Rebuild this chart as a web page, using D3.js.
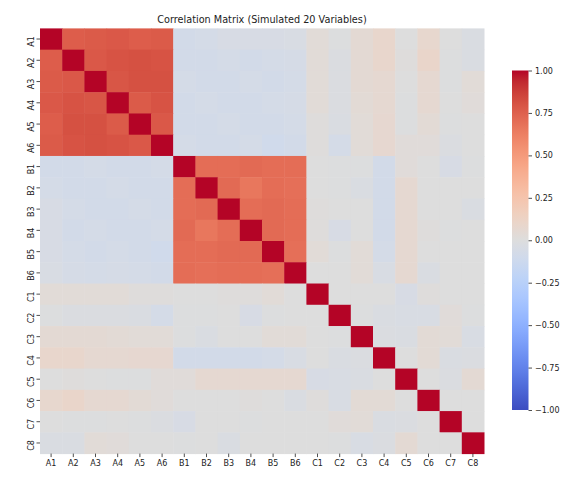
<!DOCTYPE html>
<html><head><meta charset="utf-8">
<script src="https://cdn.jsdelivr.net/npm/d3@7"></script>
<style>body{margin:0;background:#fff}svg{display:block}text{font-family:"DejaVu Sans",sans-serif;fill:#222}</style>
</head><body><svg id="c" width="574" height="493"></svg>
<script>
const labels = ["A1","A2","A3","A4","A5","A6","B1","B2","B3","B4","B5","B6","C1","C2","C3","C4","C5","C6","C7","C8"];
const values = [
[1,0.76,0.77,0.78,0.76,0.77,-0.08,-0.07,-0.05,-0.05,-0.05,-0.04,0.03,-0.01,0.05,0.09,0.00,0.08,0.00,-0.03],
[0.76,1,0.78,0.80,0.81,0.80,-0.08,-0.08,-0.07,-0.08,-0.07,-0.06,0.03,-0.02,0.05,0.09,0.01,0.10,-0.01,-0.03],
[0.77,0.78,1,0.79,0.81,0.81,-0.07,-0.08,-0.08,-0.07,-0.08,-0.07,0.03,-0.02,0.05,0.06,0.00,0.06,-0.01,0.03],
[0.78,0.80,0.79,1,0.77,0.80,-0.08,-0.07,-0.08,-0.08,-0.07,-0.06,0.03,-0.02,0.04,0.06,-0.01,0.06,0.00,0.02],
[0.76,0.81,0.81,0.77,1,0.78,-0.08,-0.08,-0.07,-0.08,-0.08,-0.07,0.01,-0.03,0.03,0.07,-0.01,0.04,-0.01,0.00],
[0.77,0.80,0.81,0.80,0.78,1,-0.07,-0.08,-0.08,-0.07,-0.10,-0.08,0.01,-0.07,0.03,0.07,0.02,0.02,-0.02,0.00],
[-0.08,-0.08,-0.07,-0.08,-0.08,-0.07,1,0.70,0.70,0.71,0.70,0.70,0.00,-0.01,-0.01,-0.08,0.02,0.00,-0.05,-0.01],
[-0.07,-0.08,-0.08,-0.07,-0.08,-0.08,0.70,1,0.71,0.66,0.70,0.69,0.00,-0.01,-0.03,-0.08,0.06,0.00,0.00,0.00],
[-0.05,-0.07,-0.08,-0.08,-0.07,-0.08,0.70,0.71,1,0.70,0.71,0.70,0.01,0.00,0.00,-0.08,0.06,0.00,0.00,-0.03],
[-0.05,-0.08,-0.07,-0.08,-0.08,-0.07,0.71,0.66,0.70,1,0.71,0.70,0.01,-0.05,0.00,-0.08,0.06,0.01,-0.01,0.00],
[-0.05,-0.07,-0.08,-0.07,-0.08,-0.10,0.70,0.70,0.71,0.71,1,0.69,0.03,-0.01,0.03,-0.07,0.06,0.00,0.00,0.00],
[-0.04,-0.06,-0.07,-0.06,-0.07,-0.08,0.70,0.69,0.70,0.70,0.69,1,0.00,0.00,0.03,-0.04,0.06,-0.03,0.00,0.00],
[0.03,0.03,0.03,0.03,0.01,0.01,0.00,0.00,0.01,0.01,0.03,0.00,1,0.00,0.00,0.00,-0.05,0.01,0.00,0.00],
[-0.01,-0.02,-0.02,-0.02,-0.03,-0.07,-0.01,-0.01,0.00,-0.05,-0.01,0.00,0.00,1,-0.01,-0.03,-0.04,-0.04,0.02,-0.01],
[0.05,0.05,0.05,0.04,0.03,0.03,-0.01,-0.03,0.00,0.00,0.03,0.03,0.00,-0.01,1,-0.02,-0.03,0.04,0.03,-0.04],
[0.09,0.09,0.06,0.06,0.07,0.07,-0.08,-0.08,-0.08,-0.08,-0.07,-0.04,0.00,-0.03,-0.02,1,0.00,0.04,-0.03,-0.02],
[0.00,0.01,0.00,-0.01,-0.01,0.02,0.02,0.06,0.06,0.06,0.06,0.06,-0.05,-0.04,-0.03,0.00,1,0.00,-0.02,0.05],
[0.08,0.10,0.06,0.06,0.04,0.02,0.00,0.00,0.00,0.01,0.00,-0.03,0.01,-0.04,0.04,0.04,0.00,1,0.00,0.00],
[0.00,-0.01,-0.01,0.00,-0.01,-0.02,-0.05,0.00,0.00,-0.01,0.00,0.00,0.00,0.02,0.03,-0.03,-0.02,0.00,1,0.00],
[-0.03,-0.03,0.03,0.02,0.00,0.00,-0.01,0.00,-0.03,0.00,0.00,0.00,0.00,-0.01,-0.04,-0.02,0.05,0.00,0.00,1]
];
const cbTicks = [1, 0.75, 0.5, 0.25, 0, -0.25, -0.5, -0.75, -1];
const title = "Correlation Matrix (Simulated 20 Variables)";

// coolwarm colormap anchors
const coolwarm = [[59,76,192],[68,90,204],[77,104,215],[87,117,225],[98,130,234],[108,142,241],[119,154,247],[130,165,251],[141,176,254],[152,185,255],[163,194,255],[174,201,253],[184,208,249],[194,213,244],[204,217,238],[213,219,230],[221,221,221],[229,216,209],[236,211,197],[241,204,185],[245,196,173],[247,187,160],[247,177,148],[247,166,135],[244,154,123],[241,141,111],[236,127,99],[229,112,88],[222,96,77],[213,80,66],[203,62,56],[192,40,47],[180,4,38]]
  .map(c => d3.rgb(c[0],c[1],c[2]).toString());
const interp = d3.piecewise(d3.interpolateRgb, coolwarm);
const color = d3.scaleSequential(interp).domain([-1, 1]);

const svg = d3.select("#c");
const L = 40, T = 28.4, W = 444, H = 425.2;
const x = d3.scaleBand().domain(labels).range([L, L + W]);
const y = d3.scaleBand().domain(labels).range([T, T + H]);

const cells = [];
values.forEach((row, i) => row.forEach((v, j) => cells.push({r: labels[i], c: labels[j], v})));
svg.append("g").selectAll("rect").data(cells).join("rect")
  .attr("x", d => x(d.c)).attr("y", d => y(d.r))
  .attr("width", x.bandwidth() + 0.5).attr("height", y.bandwidth() + 0.5)
  .attr("fill", d => color(d.v));

// axes
const xa = svg.append("g").attr("transform", `translate(0,${T + H})`)
  .call(d3.axisBottom(x).tickSize(3.5).tickPadding(3));
xa.selectAll("text").attr("font-size", 8);
const ya = svg.append("g").attr("transform", `translate(${L},0)`)
  .call(d3.axisLeft(y).tickSize(3.5).tickPadding(3));
ya.selectAll("text").attr("font-size", 8)
  .attr("transform", function() { const t = d3.select(this); return `rotate(-90,${t.attr("x")},0)`; })
  .attr("text-anchor", "middle").attr("dy", "0em").attr("x", -9);
svg.selectAll(".domain").remove();
svg.selectAll(".tick line").attr("stroke", "#222").attr("stroke-width", 0.8);

// title
svg.append("text").attr("x", L + W / 2).attr("y", 22.5).attr("text-anchor", "middle")
  .attr("font-size", 9.7).text(title);

// colorbar
const cbX = 512, cbW = 16.5, cbT = 70.5, cbB = 410;
const defs = svg.append("defs");
const grad = defs.append("linearGradient").attr("id", "g").attr("x1", 0).attr("y1", 1).attr("x2", 0).attr("y2", 0);
d3.range(0, 1.0001, 1 / 64).forEach(t => grad.append("stop").attr("offset", t).attr("stop-color", interp(t)));
svg.append("rect").attr("x", cbX).attr("y", cbT).attr("width", cbW).attr("height", cbB - cbT).attr("fill", "url(#g)");
const cy = d3.scaleLinear().domain([-1, 1]).range([cbB, cbT]);
const ca = svg.append("g").attr("transform", `translate(${cbX + cbW},0)`)
  .call(d3.axisRight(cy).tickValues(cbTicks).tickSize(3.5).tickPadding(3)
    .tickFormat(d => d3.format(".2f")(d).replace("-", "\u2212")));
ca.select(".domain").remove();
ca.selectAll("text").attr("font-size", 8);
ca.selectAll(".tick line").attr("stroke", "#222").attr("stroke-width", 0.8);
</script></body></html>
